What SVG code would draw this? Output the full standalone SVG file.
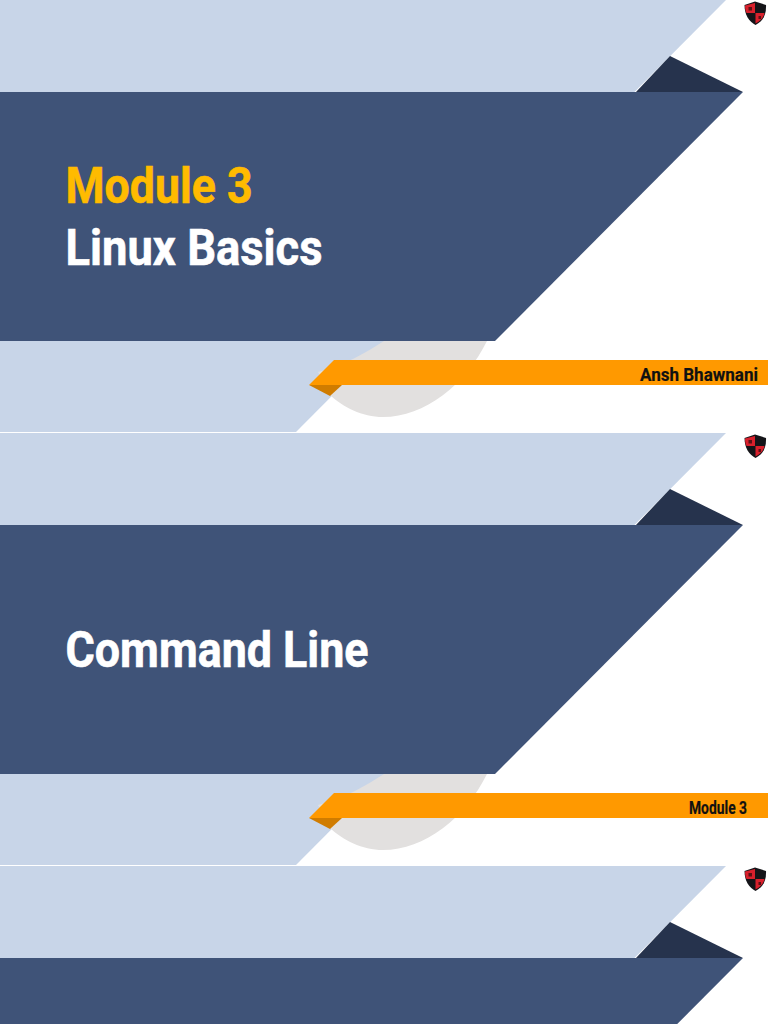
<svg xmlns="http://www.w3.org/2000/svg" width="768" height="1024" viewBox="0 0 768 1024">
<style>
.l{fill:#c8d5e8}.b{fill:#3f5378}.t{fill:#26334d}.s{fill:#e2e0df}.o{fill:#ff9900}.f{fill:#d07c00}
text{font-family:Roboto,"Liberation Sans",sans-serif;font-weight:700}
.h{font-size:50px;fill:#fff;stroke:#fff;stroke-width:.6px}.y{fill:#ffbb00;stroke:#ffbb00}.r{font-size:18.500px;fill:#111;stroke:#111;stroke-width:.2px;text-anchor:end}
</style>
<defs>
<g id="base">
<path class="l" d="M0 0H726L296 432H0Z"/>
<path class="t" d="M636 92L670 56L743 92Z"/>
<path class="b" d="M0 92H743L495 341H0Z"/>
<g transform="translate(735 0)">
<path d="M9.500 5L20 1.500L31 5C31.500 15 28 21 20.500 25C14 21.500 9.500 15 9.500 5Z" fill="#141418"/>
<path d="M10 5.500L20 3V13H11.500C10.500 11 10 8.500 10 5.500ZM20.500 13H29.500C29 16 27 20 20.500 23.500Z" fill="#d8202c"/>
<path d="M13.500 7H17V10.500H13.500ZM23.500 16H26V19H23.500Z" fill="#5a1015"/>
</g>
</g>
<g id="ribbon">
<path class="s" d="M384 341H487C465 385 425 417 383 417C362 417 343 407 330 395L318 372C345 365 365 353 384 341Z"/>
<path class="f" d="M309 385L342 385L330 396Z"/>
<path class="o" d="M334 360H768V385H309Z"/>
</g>
</defs>
<rect width="768" height="1024" fill="#fff"/>
<g id="slide1">
<use href="#base"/><use href="#ribbon"/>
<text class="h y" x="65.500" y="203" textLength="187" lengthAdjust="spacingAndGlyphs">Module 3</text>
<text class="h" x="65.500" y="265" textLength="257" lengthAdjust="spacingAndGlyphs">Linux Basics</text>
<text class="r" x="758" y="381" textLength="118" lengthAdjust="spacingAndGlyphs">Ansh Bhawnani</text>
</g>
<g id="slide2" transform="translate(0 433)">
<use href="#base"/><use href="#ribbon"/>
<text class="h" x="65.500" y="234" textLength="303" lengthAdjust="spacingAndGlyphs">Command Line</text>
<text class="r" x="747" y="381" textLength="58" lengthAdjust="spacingAndGlyphs">Module 3</text>
</g>
<g id="slide3" transform="translate(0 866)">
<use href="#base"/>
</g>
</svg>
